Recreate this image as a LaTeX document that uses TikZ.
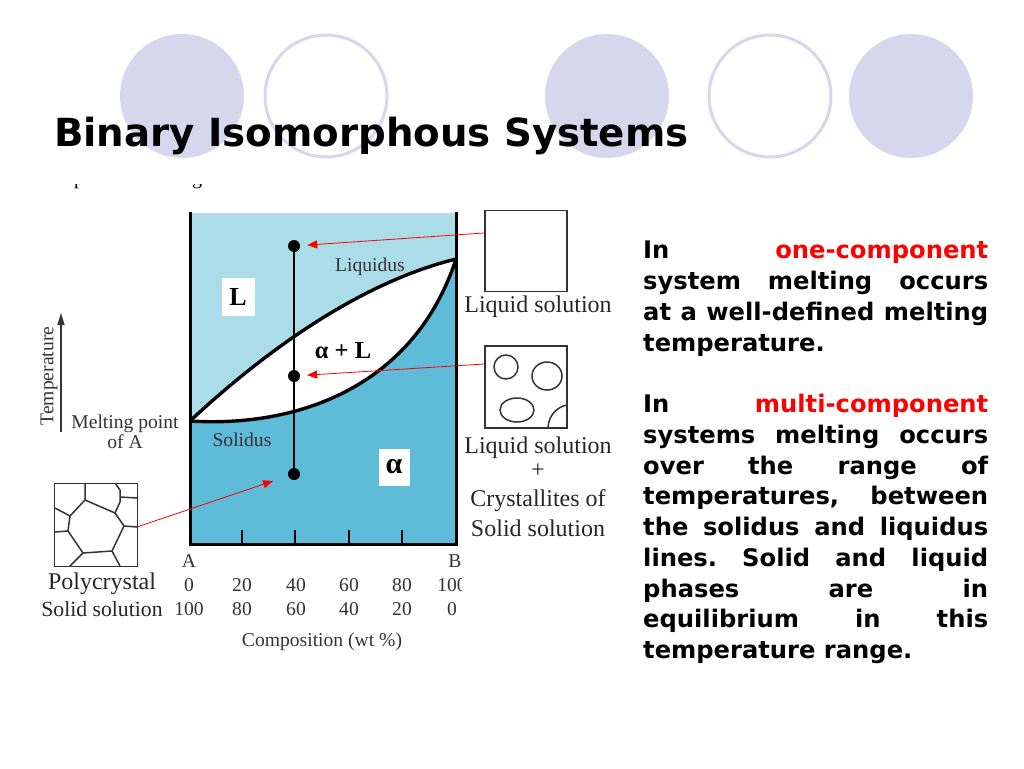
\documentclass[tikz,border=0pt]{standalone}
\usepackage{fontspec}
\setmainfont{Liberation Serif}
\newfontfamily\slidefont{DejaVu Sans}
\usepackage{tikz}
\usetikzlibrary{calc,arrows.meta}
\definecolor{lavender}{HTML}{D6D6EC}
\definecolor{liquidblue}{HTML}{ABDDE9}
\definecolor{solidblue}{HTML}{5FBCD8}
\definecolor{inkgrey}{HTML}{333333}
\begin{document}
\begin{tikzpicture}[
	x=1pt,y=-1pt,
	ball/.style={circle,fill=lavender,minimum size=124,inner sep=0},
	ring/.style={circle,draw=lavender,line width=3,fill=white,minimum size=122,inner sep=0},
	dot/.style={circle,fill=black,minimum size=12,inner sep=0},
	box/.style={draw=inkgrey,line width=1.8,minimum size=82,inner sep=0},
	phase/.style={fill=white,font=\fontsize{26}{26}\selectfont\bfseries,inner sep=0},
	small/.style={font=\fontsize{19.6}{19.6}\selectfont,text=inkgrey,inner sep=0},
	boxtext/.style={font=\fontsize{24}{24}\selectfont,text=black!85,inner sep=0},
	pointer/.style={red,line width=0.8,arrows={-Triangle[length=10pt,width=8pt]},shorten >=7pt},
	phaseline/.style={line width=3.4},
	grain/.style={line width=1.5,draw=inkgrey}]
	\useasboundingbox (0,0) rectangle (1024,768);
	\node[ball] (b1) at (182,96) {};
	\node[ring] (r1) at (326,96) {};
	\node[ball] (b2) at (607,96) {};
	\node[ring] (r2) at (770,96) {};
	\node[ball] (b3) at (911,96) {};
	\node[anchor=base west,inner sep=0,font=\slidefont\fontsize{38.7}{38.7}\selectfont\bfseries] (title) at (54,146) {Binary Isomorphous Systems};
	% leftovers of a cropped line
	\begin{scope}
		\clip (60,184) rectangle (210,195);
		\node[font=\fontsize{20}{20}\selectfont,anchor=base,inner sep=0] (p1) at (79,184) {p};
		\node[font=\fontsize{20}{20}\selectfont,anchor=base,inner sep=0] (p2) at (197,184) {g};
	\end{scope}
	% phase diagram
	\coordinate (meltA) at (190,421);
	\coordinate (meltB) at (456,259);
	\fill[liquidblue] (190,213) rectangle (456,544);
	\fill[solidblue] (meltA) .. controls (300,428) and (415,385) .. (meltB) -- (456,544) -- (190,544) -- cycle;
	\fill[white] (meltA) .. controls (300,428) and (415,385) .. (meltB) .. controls (350,285) and (250,365) .. (meltA);
	\draw[phaseline] (meltA) .. controls (300,428) and (415,385) .. (meltB);
	\draw[phaseline] (meltA) .. controls (250,365) and (350,285) .. (meltB);
	\draw[line width=3] (190,212) -- (190,544) -- (456,544) -- (456,212);
	\foreach \tx in {242,295,349,402}
		\draw[line width=1.2] (\tx,530) -- (\tx,544);
	\node[dot] (d1) at (294,246) {};
	\node[dot] (d2) at (294,376) {};
	\node[dot] (d3) at (294,474) {};
	\draw[line width=1.2] (d1) -- (d3);
	\node[phase,minimum width=33,minimum height=38] (L) at (238,297) {L};
	\node[phase,minimum width=31,minimum height=37,font=\fontsize{30}{30}\selectfont\bfseries] (a) at (394,467) {α};
	\node[small] (liq) at (370,267) {Liquidus};
	\node[font=\fontsize{24.5}{24.5}\selectfont\bfseries,inner sep=0] (aL) at (343,351) {α + L};
	\node[small] (sol) at (242,440) {Solidus};
	\node[small] (m1) at (125,424) {Melting point};
	\node[small] (m2) at (125,442) {of A};
	\node[small,rotate=90] (temp) at (49,376) {Temperature};
	\coordinate (t0) at (61,432);
	\coordinate (t1) at (61,313);
	\draw[draw=inkgrey,line width=1.2,arrows={-Triangle[length=12pt,width=7pt]}] (t0) -- (t1);
	% axis
	\begin{scope}
		\clip (170,550) rectangle (461,625);
		\node[small] (A) at (189,561) {A};
		\node[small] (B) at (455,561) {B};
		\foreach \tx/\upper/\lower/\nm in {189/0/100/c0,242/20/80/c1,296/40/60/c2,349/60/40/c3,402/80/20/c4,452/100/0/c5} {
			\node[small] (\nm u) at (\tx,585) {\upper};
			\node[small] (\nm d) at (\tx,609) {\lower};
		}
	\end{scope}
	\node[small] (comp) at (322,642) {Composition (wt \%)};
	% liquid box
	\node[box,minimum height=81,anchor=north west] (lbox) at (484,209.5) {};
	\node[boxtext] (lt) at (538,307) {Liquid solution};
	\coordinate (ls) at (484,233);
	\draw[pointer] (ls) -- (d1);
	% mixed box
	\node[box,anchor=north west] (mbox) at (484,345) {};
	\draw[grain] (506,367) circle (12);
	\draw[grain] (547,376) ellipse (15 and 14);
	\draw[grain] (517,410) ellipse (17 and 12);
	\draw[grain] (548,427) .. controls (549,415) and (557,407) .. (567,405);
	\node[boxtext] (mt1) at (538,448) {Liquid solution};
	\node[boxtext] (mt2) at (538,471) {+};
	\node[boxtext] (mt3) at (538,501) {Crystallites of};
	\node[boxtext] (mt4) at (538,528) {Solid solution};
	\coordinate (ms) at (484,364);
	\draw[pointer] (ms) -- (d2);
	% polycrystal box
	\node[box,minimum size=83,anchor=north west] (pbox) at (53.5,482.5) {};
	\draw[grain] (85,483) -- (85,500) -- (115,513) -- (120,502) -- (120,490) -- (115,483);
	\draw[grain] (120,497) -- (137,498);
	\draw[grain] (115,513) -- (124,526) -- (137,527);
	\draw[grain] (124,526) -- (112,551) -- (83,553) -- (68,531) -- (70,516) -- (85,500);
	\draw[grain] (112,551) -- (120,566);
	\draw[grain] (83,553) -- (70,566);
	\draw[grain] (70,516) -- (55,508);
	\draw[grain] (68,531) -- (55,532);
	\node[font=\fontsize{24}{24}\selectfont,text=black!85,inner sep=0] (pt1) at (102,584) {Polycrystal};
	\node[font=\fontsize{21.7}{21.7}\selectfont,text=black!85,inner sep=0] (pt2) at (102,609) {Solid solution};
	\coordinate (ps) at (137,527);
	\coordinate (pe) at (273,481);
	\draw[pointer,shorten >=0pt] (ps) -- (pe);
	% body text
	\node[anchor=north west,inner sep=0,text width=345,align=justify,font=\slidefont\fontsize{24.2}{30.75}\selectfont\bfseries\frenchspacing] (body) at (643,241) {%
		In \textcolor{red}{one-component}\linebreak
		system melting occurs\linebreak
		at a well-defined melting\linebreak
		temperature.\par
		\null\par
		In \textcolor{red}{multi-component}\linebreak
		systems melting occurs\linebreak
		over the range of\linebreak
		temperatures, between\linebreak
		the solidus and liquidus\linebreak
		lines. Solid and liquid\linebreak
		phases are in\linebreak
		equilibrium in this\linebreak
		temperature range.};
\end{tikzpicture}
\end{document}
